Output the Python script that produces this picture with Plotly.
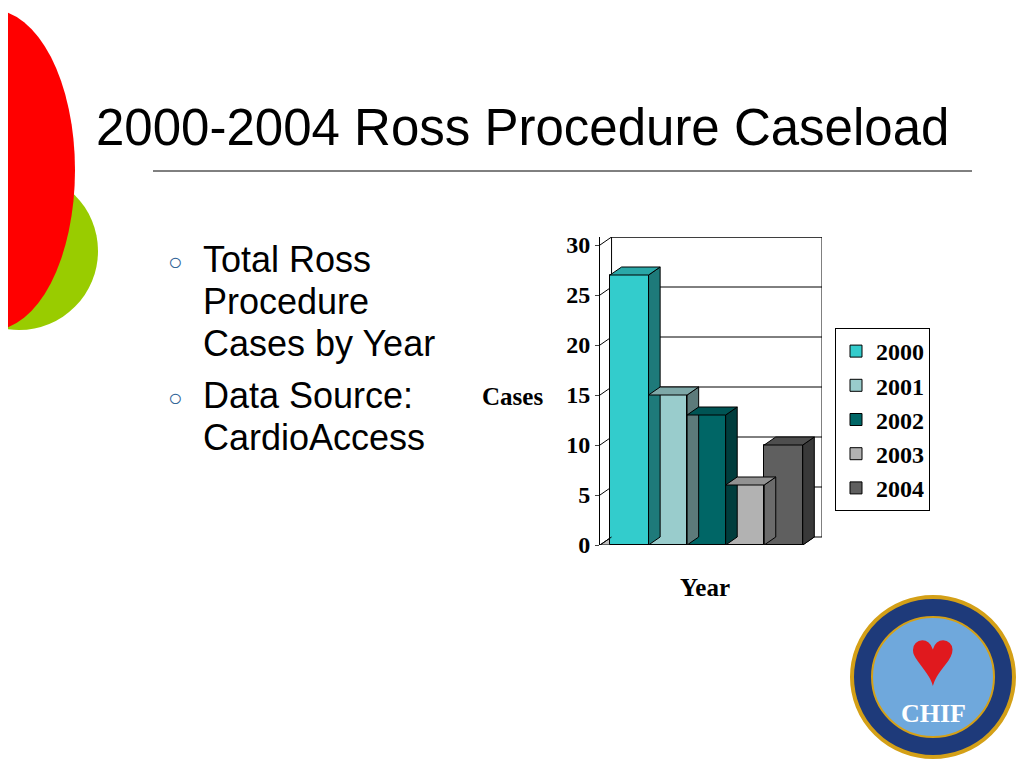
import plotly.graph_objects as go

years = ["2000", "2001", "2002", "2003", "2004"]
cases = [27, 15, 13, 6, 10]
front = ["#33CCCC", "#99CCCC", "#006666", "#B2B2B2", "#5F5F5F"]
side = ["#1E7A7A", "#5C7A7A", "#003D3D", "#6B6B6B", "#393939"]
top = ["#2AA8A8", "#7EA8A8", "#005454", "#929292", "#4E4E4E"]
yticks = [0, 5, 10, 15, 20, 25, 30]

OFF = 8  # page body margin
W, H = 1024, 768
L, R, T, B = 600 - OFF, 822 - OFF, 237 - OFF, 545 - OFF
XR = [-0.76, 5.0]
YR = [0, 30.8]
dx, dy = 0.3, 0.8

def px(x):
    return (x - OFF - L) / (R - L)
def py(y):
    return (B - (y - OFF)) / (B - T)

fig = go.Figure()
for i, (yr, v) in enumerate(zip(years, cases)):
    fig.add_trace(go.Bar(x=[i], y=[v], width=1, name=yr, marker=dict(color=front[i], line=dict(color="black", width=1))))

shapes = []
shapes.append(dict(type="rect", xref="x", yref="y", x0=XR[0]+dx, x1=XR[1], y0=dy, y1=YR[1], line=dict(color="black", width=1), fillcolor="white", layer="below"))
for v in yticks[1:]:
    shapes.append(dict(type="line", xref="x", yref="y", x0=XR[0]+dx, x1=XR[1], y0=v+dy, y1=v+dy, line=dict(color="black", width=1), layer="below"))
    shapes.append(dict(type="line", xref="x", yref="y", x0=XR[0], x1=XR[0]+dx, y0=v, y1=v+dy, line=dict(color="black", width=1), layer="below"))
shapes.append(dict(type="line", xref="x", yref="y", x0=XR[0], x1=XR[0]+dx, y0=0, y1=dy, line=dict(color="black", width=1)))
shapes.append(dict(type="path", xref="x", yref="y", path=f"M {XR[0]},0 L 4.5,0 L {4.5+dx},{dy} L {XR[0]+dx},{dy} Z", line=dict(color="black", width=1), fillcolor="#C0C0C0", layer="below"))
for i, v in enumerate(cases):
    x0, x1 = i - 0.5, i + 0.5
    shapes.append(dict(type="path", xref="x", yref="y", path=f"M {x1},0 L {x1+dx},{dy} L {x1+dx},{v+dy} L {x1},{v} Z", fillcolor=side[i], line=dict(color="black", width=1)))
    shapes.append(dict(type="path", xref="x", yref="y", path=f"M {x0},{v} L {x0+dx},{v+dy} L {x1+dx},{v+dy} L {x1},{v} Z", fillcolor=top[i], line=dict(color="black", width=1)))

shapes.append(dict(type="circle", xref="paper", yref="paper", x0=px(-60), x1=px(98), y0=py(330), y1=py(172), fillcolor="#99CC00", line=dict(width=0), layer="below"))
shapes.append(dict(type="circle", xref="paper", yref="paper", x0=px(-90), x1=px(75), y0=py(330), y1=py(10), fillcolor="#FF0000", line=dict(width=0), layer="below"))
shapes.append(dict(type="line", xref="paper", yref="paper", x0=px(153), x1=px(972), y0=py(171), y1=py(171), line=dict(color="black", width=1)))
shapes.append(dict(type="circle", xref="paper", yref="paper", x0=px(852), x1=px(1014), y0=py(757), y1=py(597), fillcolor="#1E3A7A", line=dict(color="#D4A017", width=4)))
shapes.append(dict(type="circle", xref="paper", yref="paper", x0=px(872), x1=px(994), y0=py(737), y1=py(617), fillcolor="#6FA8DC", line=dict(color="#D4A017", width=2)))

ann = []
def txt(x, y, s, size, fam="Liberation Sans", color="black", anchor="left", bold=False, va="middle"):
    ann.append(dict(xref="paper", yref="paper", x=px(x), y=py(y), text=f"<b>{s}</b>" if bold else s, showarrow=False,
                    xanchor=anchor, yanchor=va, align="left", font=dict(family=fam, size=size, color=color)))
txt(94, 128, "2000-2004 Ross Procedure Caseload", 51)
txt(175, 261, "○", 24, color="#336699", anchor="center")
txt(175, 397, "○", 24, color="#336699", anchor="center")
for s, y in [("Total Ross", 259), ("Procedure", 301), ("Cases by Year", 343), ("Data Source:", 395), ("CardioAccess", 437)]:
    txt(201, y, s, 36)
txt(480, 396, "Cases", 25, fam="Liberation Serif", bold=True)
txt(705, 587, "Year", 25, fam="Liberation Serif", anchor="center", bold=True)
txt(933, 657, "♥", 80, color="#E0191E", anchor="center")
txt(933, 713, "CHIF", 26, fam="Liberation Serif", color="white", anchor="center", bold=True)

fig.update_layout(
    width=W, height=H, paper_bgcolor="white", plot_bgcolor="rgba(0,0,0,0)",
    margin=dict(l=L, r=W-R, t=T, b=H-B, autoexpand=False),
    barmode="overlay", bargap=0,
    xaxis=dict(range=XR, showticklabels=False, showgrid=False, zeroline=False, showline=False, ticks=""),
    yaxis=dict(range=YR, tickvals=yticks, ticktext=[f"<b>{v}</b>" for v in yticks], showgrid=False, zeroline=False, showline=True, linecolor="black",
               ticks="outside", ticklen=4, tickfont=dict(family="Liberation Serif", size=24, color="black")),
    showlegend=True,
    legend=dict(x=px(835), y=py(328), xanchor="left", yanchor="top", bgcolor="white", bordercolor="black", borderwidth=1,
                font=dict(family="Liberation Serif", size=24, color="black", weight="bold"), tracegroupgap=2, itemwidth=30),
    shapes=shapes, annotations=ann,
)
fig.write_html("out.html")
